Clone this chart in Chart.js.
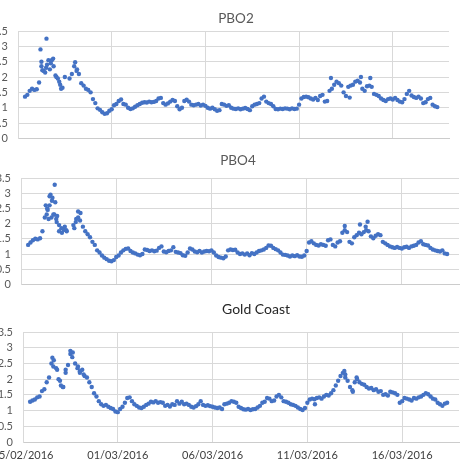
<!DOCTYPE html>
<html>
<head>
<meta charset="utf-8">
<script src="https://cdn.jsdelivr.net/npm/chart.js@4.4.1/dist/chart.umd.min.js"></script>
<style>
    html, body { margin: 0; padding: 0; background: #fff; overflow: hidden; }
    body { width: 474px; height: 474px; position: relative; font-family: Lato, sans-serif; }
    .panel { position: absolute; left: -40px; }
    .title { position: absolute; white-space: nowrap; transform: translate(-50%, -50%); }
</style>
</head>
<body>

<div class="panel" style="top:0px;width:493px;height:155px"><canvas id="chartPbo2"></canvas></div>
<div class="panel" style="top:145px;width:503px;height:156px"><canvas id="chartPbo4"></canvas></div>
<div class="panel" style="top:291px;width:503px;height:183px"><canvas id="chartGold"></canvas></div>

<div class="title" style="left:236px;top:18px;font-size:13.5px;color:#595959">PBO2</div>
<div class="title" style="left:238px;top:160px;font-size:13.5px;color:#595959">PBO4</div>
<div class="title" style="left:256px;top:308px;font-size:14px;color:#262626">Gold Coast</div>

<script>
// ================= DATA =================
// readings every 3 hours, x = days after 25/02/2016 00:00
const sampleStartDay = 0.375;
const sampleStepDay = 0.125;

const xTickLabels = ['25/02/2016', '01/03/2016', '06/03/2016', '11/03/2016', '16/03/2016'];
const yTickLabels = ['0', '0.5', '1', '1.5', '2', '2.5', '3', '3.5'];

const pbo2Values = [
    1.36, 1.42, 1.55, 1.62, 1.58, 1.60, 1.82, 2.35,
    2.20, 2.30, 2.55, 2.45, 2.60, 2.05, 1.95, 1.75,
    1.65, 2.00, null, 1.95, 2.10, 2.35, 2.20, 2.10,
    1.80, 1.72, 1.62, 1.58, 1.50, 1.28, 1.15, 0.98,
    0.93, 0.85, 0.80, 0.82, 0.90, 0.95, 1.08, 1.12,
    1.22, 1.27, 1.12, 1.10, 1.00, 0.96, 0.98, 1.03,
    1.08, 1.12, 1.16, 1.18, 1.17, 1.20, 1.18, 1.19,
    1.22, 1.30, 1.32, 1.15, 1.10, 1.14, 1.20, 1.25,
    1.22, 1.05, 0.95, 1.00, 1.22, 1.26, 1.20, 1.10,
    1.08, 1.10, 1.12, 1.07, 1.10, 1.06, 1.00, 0.97,
    1.00, 0.95, 0.90, 0.92, 1.12, 1.10, 1.06, 1.08,
    1.00, 0.97, 0.96, 0.98, 0.95, 0.97, 0.99, 0.96,
    0.92, 1.05, 1.10, 1.12, 1.15, 1.30, 1.36, 1.20,
    1.15, 1.12, 1.05, 0.96, 0.95, 0.97, 0.96, 0.98,
    0.97, 0.95, 0.98, 0.96, 0.97, 1.10, 1.30, 1.35,
    1.36, 1.34, 1.30, 1.27, 1.32, 1.25, 1.38, 1.42,
    1.20, 1.22, 1.55, 1.62, 1.75, 1.85, 1.80, 1.72,
    1.50, 1.38, 1.68, 1.72, 1.75, 1.85, 1.88, 1.82,
    1.62, 1.55, 1.70, 1.72, 1.68, 1.45, 1.42, 1.38,
    1.30, 1.25, 1.22, 1.28, 1.30, 1.27, 1.32, 1.25,
    1.20, 1.18, 1.28, 1.45, 1.55, 1.40, 1.35, 1.32,
    1.36, 1.30, 1.15, 1.18, 1.28, 1.32, 1.10, 1.05,
    1.02
];
const pbo2Extra = [
    [1.20, 2.90], [1.52, 3.25], [1.25, 2.50], [1.30, 2.22], [1.45, 2.15], [1.55, 2.40],
    [1.70, 2.25], [1.80, 2.55], [1.90, 2.35], [2.05, 2.00], [2.20, 1.85], [2.30, 1.62],
    [3.05, 2.48], [3.15, 2.25], [16.70, 1.97], [18.30, 2.00], [18.80, 1.97], [17.70, 1.33]
];

const pbo4Values = [
    1.30, 1.38, 1.45, 1.50, 1.48, 1.52, 1.75, 2.20,
    2.50, 2.90, 2.75, 2.30, 2.05, 1.95, 1.85, 1.80,
    1.78, null, null, 1.95, 2.05, 2.20, 2.35, 1.90,
    1.75, 1.65, 1.55, 1.40, 1.30, 1.12, 1.05, 0.95,
    0.88, 0.83, 0.78, 0.76, 0.80, 0.90, 0.95, 1.05,
    1.12, 1.17, 1.18, 1.10, 1.05, 1.02, 0.98, 0.96,
    1.00, 1.15, 1.13, 1.10, 1.12, 1.09, 1.11, 1.20,
    1.25, 1.08, 1.06, 1.10, 1.12, 1.22, 1.07, 1.05,
    1.03, 0.96, 0.94, 1.05, 1.18, 1.15, 1.08, 1.06,
    1.10, 1.05, 1.08, 1.10, 1.09, 1.12, 1.05, 0.95,
    0.90, 0.88, 0.86, 0.92, 1.12, 1.15, 1.13, 1.14,
    1.05, 1.00, 1.02, 0.98, 1.02, 0.96, 1.03, 1.00,
    1.05, 1.10, 1.12, 1.15, 1.20, 1.28, 1.27, 1.20,
    1.16, 1.12, 1.05, 0.98, 0.97, 0.95, 0.92, 0.95,
    0.93, 0.96, 0.92, 0.91, 0.95, 1.10, 1.38, 1.42,
    1.35, 1.30, 1.28, 1.32, 1.30, 1.27, 1.45, 1.48,
    1.30, 1.25, 1.38, 1.42, 1.70, 1.78, 1.72, 1.40,
    1.35, 1.55, 1.62, 1.70, 1.65, 1.72, 1.78, 1.75,
    1.58, 1.52, 1.60, 1.65, 1.62, 1.40, 1.35, 1.30,
    1.25, 1.22, 1.20, 1.23, 1.20, 1.18, 1.22, 1.24,
    1.20, 1.25, 1.27, 1.30, 1.38, 1.42, 1.32, 1.30,
    1.28, 1.20, 1.15, 1.12, 1.10, 1.08, 1.12, 1.02,
    1.00
];
const pbo4Extra = [
    [1.30, 2.60], [1.35, 2.30], [1.40, 2.45], [1.45, 2.15], [1.50, 2.60], [1.55, 2.95],
    [1.60, 2.20], [1.65, 2.85], [1.70, 2.30], [1.77, 3.28], [1.80, 2.70], [1.85, 2.15],
    [1.90, 2.25], [2.00, 1.75], [2.15, 1.70], [2.30, 1.90], [2.40, 1.75], [2.80, 1.85],
    [2.90, 2.15], [3.00, 2.40], [3.10, 2.10], [17.80, 1.97], [18.20, 2.06], [18.10, 1.90],
    [17.00, 1.92]
];

const goldCoastValues = [
    1.28, 1.32, 1.35, 1.42, 1.45, 1.62, 1.68, 1.90,
    2.05, 2.50, 2.60, 2.35, 2.00, 1.80, 1.75, 2.20,
    2.45, 2.80, 2.85, 2.50, 2.35, 2.25, 2.30, 2.10,
    2.05, 1.90, 1.75, 1.55, 1.45, 1.30, 1.20, 1.15,
    1.18, 1.12, 1.08, 1.05, 0.97, 0.95, 1.05, 1.12,
    1.25, 1.40, 1.42, 1.30, 1.20, 1.15, 1.10, 1.08,
    1.12, 1.18, 1.22, 1.28, 1.26, 1.30, 1.25, 1.27,
    1.25, 1.15, 1.18, 1.13, 1.20, 1.18, 1.30, 1.22,
    1.28, 1.20, 1.22, 1.18, 1.12, 1.10, 1.14, 1.20,
    1.30, 1.18, 1.15, 1.17, 1.14, 1.12, 1.10, 1.08,
    1.10, 1.05, 1.20, 1.22, 1.25, 1.30, 1.28, 1.25,
    1.12, 1.08, 1.04, 1.03, 1.05, 1.02, 1.04, 1.05,
    1.10, 1.15, 1.25, 1.28, 1.40, 1.38, 1.30, 1.32,
    1.45, 1.50, 1.42, 1.30, 1.28, 1.25, 1.20, 1.18,
    1.15, 1.10, 1.05, 1.02, 1.08, 1.25, 1.35, 1.38,
    1.36, 1.40, 1.42, 1.38, 1.45, 1.50, 1.48, 1.55,
    1.65, 1.80, 1.95, 2.10, 2.20, 2.15, 1.95, 1.75,
    1.65, 1.90, 2.00, 1.90, 1.85, 1.82, 1.75, 1.70,
    1.72, 1.65, 1.68, 1.60, 1.62, 1.50, 1.52, 1.48,
    1.60, 1.58, 1.55, 1.50, 1.25, 1.30, 1.40, 1.38,
    1.35, 1.32, 1.40, 1.38, 1.42, 1.45, 1.50, 1.55,
    1.52, 1.45, 1.38, 1.35, 1.25, 1.20, 1.15, 1.22,
    1.25
];
const goldCoastExtra = [
    [1.55, 2.68], [1.60, 2.40], [1.80, 2.30], [1.95, 1.95], [2.10, 1.75], [2.25, 2.30],
    [2.50, 2.90], [2.60, 2.70], [2.90, 2.40], [3.00, 2.20], [3.20, 2.15], [16.95, 2.26],
    [17.00, 2.05], [17.40, 1.60], [17.60, 2.05], [15.40, 1.20]
];

// ================= CHARTS =================
function toPoints(values, extra) {
    const pts = [];
    values.forEach((v, i) => {
        if (v !== null) pts.push({ x: sampleStartDay + i * sampleStepDay, y: v });
    });
    extra.forEach(p => pts.push({ x: p[0], y: p[1] }));
    return pts;
}

function makePanel(id, values, extra, cfg) {
    return new Chart(document.getElementById(id), {
        type: 'scatter',
        data: {
            datasets: [{
                data: toPoints(values, extra),
                backgroundColor: '#4472C4',
                pointRadius: 2.2,
                pointBorderWidth: 0
            }]
        },
        options: {
            responsive: true,
            maintainAspectRatio: false,
            animation: false,
            devicePixelRatio: 1,
            layout: { padding: { top: cfg.padTop, right: 0, bottom: 0, left: 0 } },
            plugins: { legend: { display: false }, tooltip: { enabled: false } },
            scales: {
                x: {
                    type: 'linear',
                    min: 0,
                    max: 23,
                    afterFit: s => { s.height = cfg.xHeight; },
                    grid: { color: '#d9d9d9', drawTicks: false },
                    border: { color: '#cccccc' },
                    ticks: {
                        display: cfg.showDates,
                        stepSize: 5,
                        includeBounds: false,
                        padding: 7,
                        maxRotation: 0,
                        autoSkip: false,
                        color: '#404040',
                        font: { family: 'Lato', size: 11 },
                        callback: (v) => xTickLabels[Math.round(v / 5)]
                    }
                },
                y: {
                    min: 0,
                    max: 3.5,
                    afterFit: s => { s.width = cfg.yWidth; },
                    grid: { color: '#d9d9d9', drawTicks: false },
                    border: { color: '#d9d9d9' },
                    ticks: {
                        stepSize: 0.5,
                        autoSkip: false,
                        padding: 10,
                        color: '#595959',
                        font: { family: 'Lato', size: 11 },
                        callback: (v) => yTickLabels[Math.round(v * 2)]
                    }
                }
            }
        }
    });
}

makePanel('chartPbo2', pbo2Values, pbo2Extra, { padTop: 31, xHeight: 10, yWidth: 58, showDates: false });
makePanel('chartPbo4', pbo4Values, pbo4Extra, { padTop: 33, xHeight: 10, yWidth: 61, showDates: false });
makePanel('chartGold', goldCoastValues, goldCoastExtra, { padTop: 41, xHeight: 32, yWidth: 63, showDates: true });
</script>
</body>
</html>
